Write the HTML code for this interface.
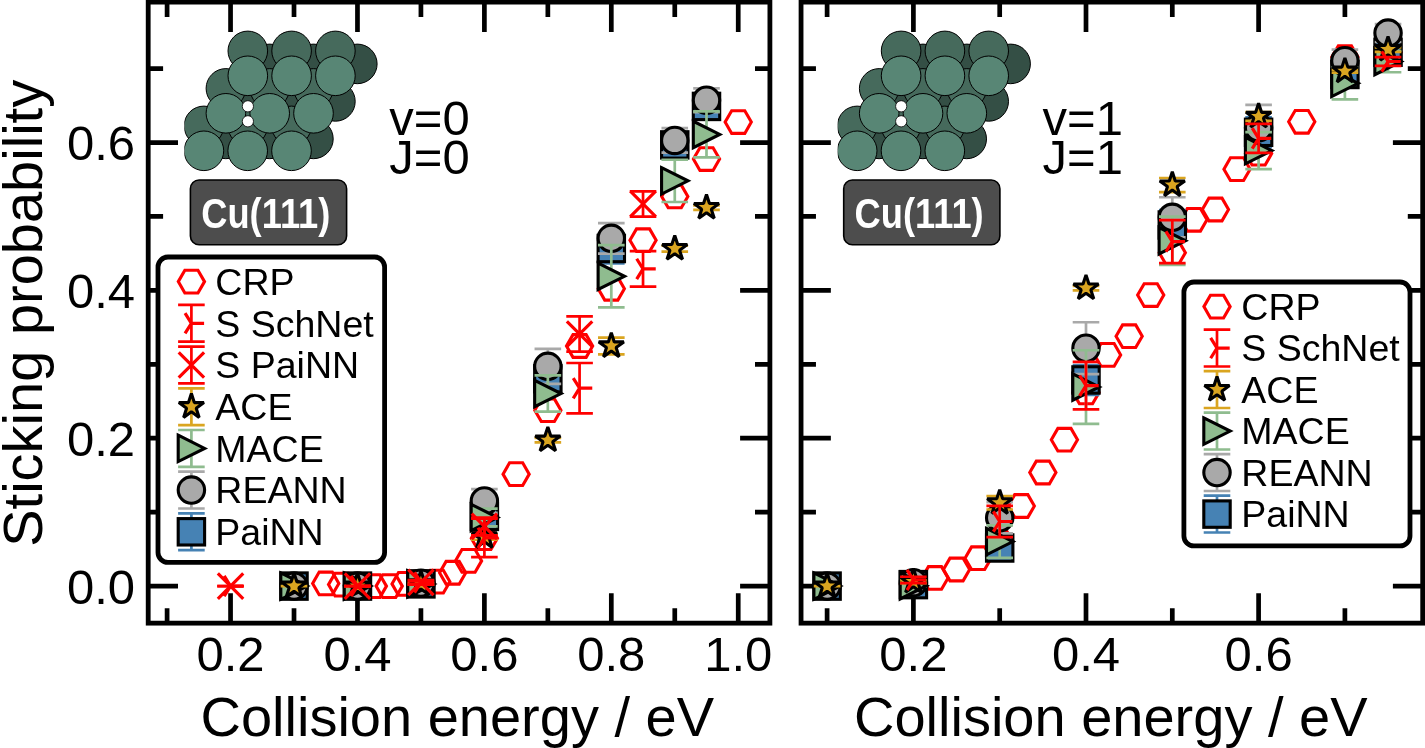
<!DOCTYPE html>
<html lang="en"><head><meta charset="utf-8"><title>Sticking probability</title>
<style>html,body{margin:0;padding:0;background:#fff;overflow:hidden}svg{display:block;position:absolute;left:0;top:0}text{font-family:'Liberation Sans', Arial, Helvetica, sans-serif}</style></head><body>
<svg width="1425" height="748" viewBox="0 0 1425 748">
<defs><clipPath id="slabclip"><rect x="184.4" y="0" width="260" height="200"/></clipPath></defs>
<rect width="1425" height="748" fill="#fff"/>
<path d="M230.55 623.15V593.35M230.55 2.1V31.9M357.47 623.15V593.35M357.47 2.1V31.9M484.39 623.15V593.35M484.39 2.1V31.9M611.31 623.15V593.35M611.31 2.1V31.9M738.23 623.15V593.35M738.23 2.1V31.9M167.09 623.15V608.25M167.09 2.1V17M294.01 623.15V608.25M294.01 2.1V17M420.93 623.15V608.25M420.93 2.1V17M547.85 623.15V608.25M547.85 2.1V17M674.77 623.15V608.25M674.77 2.1V17M148.2 586.05H178M769.9 586.05H740.1M148.2 438.21H178M769.9 438.21H740.1M148.2 290.37H178M769.9 290.37H740.1M148.2 142.53H178M769.9 142.53H740.1M148.2 512.13H163.1M769.9 512.13H755M148.2 364.29H163.1M769.9 364.29H755M148.2 216.45H163.1M769.9 216.45H755M148.2 68.61H163.1M769.9 68.61H755" stroke="#000" stroke-width="4.7" fill="none"/>
<rect x="148.2" y="2.1" width="621.7" height="621.05" fill="none" stroke="#000" stroke-width="4.8"/>
<path d="M913.4 623.15V593.35M913.4 2.1V31.9M1086 623.15V593.35M1086 2.1V31.9M1258.6 623.15V593.35M1258.6 2.1V31.9M827.1 623.15V608.25M827.1 2.1V17M999.7 623.15V608.25M999.7 2.1V17M1172.3 623.15V608.25M1172.3 2.1V17M1344.9 623.15V608.25M1344.9 2.1V17M801.05 586.05H830.85M1422.7 586.05H1392.9M801.05 438.21H830.85M1422.7 438.21H1392.9M801.05 290.37H830.85M1422.7 290.37H1392.9M801.05 142.53H830.85M1422.7 142.53H1392.9M801.05 512.13H815.95M1422.7 512.13H1407.8M801.05 364.29H815.95M1422.7 364.29H1407.8M801.05 216.45H815.95M1422.7 216.45H1407.8M801.05 68.61H815.95M1422.7 68.61H1407.8" stroke="#000" stroke-width="4.7" fill="none"/>
<rect x="801.05" y="2.1" width="621.65" height="621.05" fill="none" stroke="#000" stroke-width="4.8"/>
<polygon points="338.84,583.43 332.29,594.78 319.19,594.78 312.64,583.43 319.19,572.09 332.29,572.09" fill="none" stroke="#ff0000" stroke-width="3.1" stroke-linejoin="miter"/>
<polygon points="354.71,584.62 348.16,595.96 335.06,595.96 328.5,584.62 335.06,573.27 348.16,573.27" fill="none" stroke="#ff0000" stroke-width="3.1" stroke-linejoin="miter"/>
<polygon points="370.57,585.36 364.02,596.7 350.92,596.7 344.37,585.36 350.92,574.01 364.02,574.01" fill="none" stroke="#ff0000" stroke-width="3.1" stroke-linejoin="miter"/>
<polygon points="386.44,586.1 379.89,597.44 366.79,597.44 360.24,586.1 366.79,574.76 379.89,574.76" fill="none" stroke="#ff0000" stroke-width="3.1" stroke-linejoin="miter"/>
<polygon points="402.3,586.1 395.75,597.44 382.65,597.44 376.1,586.1 382.65,574.76 395.75,574.76" fill="none" stroke="#ff0000" stroke-width="3.1" stroke-linejoin="miter"/>
<polygon points="418.17,583.88 411.62,595.22 398.51,595.22 391.96,583.88 398.51,572.53 411.62,572.53" fill="none" stroke="#ff0000" stroke-width="3.1" stroke-linejoin="miter"/>
<polygon points="434.03,582.39 427.48,593.74 414.38,593.74 407.83,582.39 414.38,571.05 427.48,571.05" fill="none" stroke="#ff0000" stroke-width="3.1" stroke-linejoin="miter"/>
<polygon points="449.9,581.65 443.35,593 430.25,593 423.69,581.65 430.25,570.31 443.35,570.31" fill="none" stroke="#ff0000" stroke-width="3.1" stroke-linejoin="miter"/>
<polygon points="465.76,572.75 459.21,584.1 446.11,584.1 439.56,572.75 446.11,561.41 459.21,561.41" fill="none" stroke="#ff0000" stroke-width="3.1" stroke-linejoin="miter"/>
<polygon points="481.62,560.89 475.07,572.23 461.97,572.23 455.42,560.89 461.97,549.54 475.07,549.54" fill="none" stroke="#ff0000" stroke-width="3.1" stroke-linejoin="miter"/>
<polygon points="497.49,538.2 490.94,549.54 477.84,549.54 471.29,538.2 477.84,526.85 490.94,526.85" fill="none" stroke="#ff0000" stroke-width="3.1" stroke-linejoin="miter"/>
<polygon points="529.22,474.13 522.67,485.48 509.57,485.48 503.02,474.13 509.57,462.79 522.67,462.79" fill="none" stroke="#ff0000" stroke-width="3.1" stroke-linejoin="miter"/>
<polygon points="560.95,410.22 554.4,421.56 541.3,421.56 534.75,410.22 541.3,398.87 554.4,398.87" fill="none" stroke="#ff0000" stroke-width="3.1" stroke-linejoin="miter"/>
<polygon points="592.68,346 586.13,357.35 573.03,357.35 566.48,346 573.03,334.66 586.13,334.66" fill="none" stroke="#ff0000" stroke-width="3.1" stroke-linejoin="miter"/>
<polygon points="624.41,288.76 617.86,300.1 604.76,300.1 598.21,288.76 604.76,277.41 617.86,277.41" fill="none" stroke="#ff0000" stroke-width="3.1" stroke-linejoin="miter"/>
<polygon points="656.14,240.19 649.59,251.54 636.49,251.54 629.94,240.19 636.49,228.85 649.59,228.85" fill="none" stroke="#ff0000" stroke-width="3.1" stroke-linejoin="miter"/>
<polygon points="687.87,196.44 681.32,207.79 668.22,207.79 661.67,196.44 668.22,185.1 681.32,185.1" fill="none" stroke="#ff0000" stroke-width="3.1" stroke-linejoin="miter"/>
<polygon points="719.6,159.07 713.05,170.42 699.95,170.42 693.4,159.07 699.95,147.73 713.05,147.73" fill="none" stroke="#ff0000" stroke-width="3.1" stroke-linejoin="miter"/>
<polygon points="751.33,122.07 744.78,133.41 731.68,133.41 725.13,122.07 731.68,110.72 744.78,110.72" fill="none" stroke="#ff0000" stroke-width="3.1" stroke-linejoin="miter"/>
<path d="M294.01 586.1L294.01 586.1M280.71 586.1L307.31 586.1M280.71 586.1L307.31 586.1" stroke="#4682B4" stroke-width="2.7" fill="none"/>
<path d="M357.47 586.1L357.47 586.1M344.17 586.1L370.77 586.1M344.17 586.1L370.77 586.1" stroke="#4682B4" stroke-width="2.7" fill="none"/>
<path d="M420.93 583.13L420.93 584.62M407.63 583.13L434.23 583.13M407.63 584.62L434.23 584.62" stroke="#4682B4" stroke-width="2.7" fill="none"/>
<path d="M484.39 508.98L484.39 523.81M471.09 508.98L497.69 508.98M471.09 523.81L497.69 523.81" stroke="#4682B4" stroke-width="2.7" fill="none"/>
<path d="M547.85 367.65L547.85 389.9M534.55 367.65L561.15 367.65M534.55 389.9L561.15 389.9" stroke="#4682B4" stroke-width="2.7" fill="none"/>
<path d="M611.31 233.67L611.31 263.33M598.01 233.67L624.61 233.67M598.01 263.33L624.61 263.33" stroke="#4682B4" stroke-width="2.7" fill="none"/>
<path d="M674.77 133.79L674.77 156.03M661.47 133.79L688.07 133.79M661.47 156.03L688.07 156.03" stroke="#4682B4" stroke-width="2.7" fill="none"/>
<path d="M706.5 95.3L706.5 117.55M693.2 95.3L719.8 95.3M693.2 117.55L719.8 117.55" stroke="#4682B4" stroke-width="2.7" fill="none"/>
<rect x="280.81" y="572.9" width="26.4" height="26.4" fill="#4682B4" stroke="#000" stroke-width="3.1"/>
<rect x="344.27" y="572.9" width="26.4" height="26.4" fill="#4682B4" stroke="#000" stroke-width="3.1"/>
<rect x="407.73" y="570.68" width="26.4" height="26.4" fill="#4682B4" stroke="#000" stroke-width="3.1"/>
<rect x="471.19" y="503.2" width="26.4" height="26.4" fill="#4682B4" stroke="#000" stroke-width="3.1"/>
<rect x="534.65" y="365.58" width="26.4" height="26.4" fill="#4682B4" stroke="#000" stroke-width="3.1"/>
<rect x="598.11" y="235.3" width="26.4" height="26.4" fill="#4682B4" stroke="#000" stroke-width="3.1"/>
<rect x="661.57" y="131.71" width="26.4" height="26.4" fill="#4682B4" stroke="#000" stroke-width="3.1"/>
<rect x="693.3" y="93.22" width="26.4" height="26.4" fill="#4682B4" stroke="#000" stroke-width="3.1"/>
<path d="M294.01 586.1L294.01 586.1M280.71 586.1L307.31 586.1M280.71 586.1L307.31 586.1" stroke="#A9A9A9" stroke-width="2.7" fill="none"/>
<path d="M357.47 586.1L357.47 586.1M344.17 586.1L370.77 586.1M344.17 586.1L370.77 586.1" stroke="#A9A9A9" stroke-width="2.7" fill="none"/>
<path d="M420.93 582.39L420.93 583.88M407.63 582.39L434.23 582.39M407.63 583.88L434.23 583.88" stroke="#A9A9A9" stroke-width="2.7" fill="none"/>
<path d="M484.39 489.11L484.39 512.84M471.09 489.11L497.69 489.11M471.09 512.84L497.69 512.84" stroke="#A9A9A9" stroke-width="2.7" fill="none"/>
<path d="M547.85 348.82L547.85 383.82M534.55 348.82L561.15 348.82M534.55 383.82L561.15 383.82" stroke="#A9A9A9" stroke-width="2.7" fill="none"/>
<path d="M611.31 223.06L611.31 253.61M598.01 223.06L624.61 223.06M598.01 253.61L624.61 253.61" stroke="#A9A9A9" stroke-width="2.7" fill="none"/>
<path d="M674.77 128.22L674.77 152.69M661.47 128.22L688.07 128.22M661.47 152.69L688.07 152.69" stroke="#A9A9A9" stroke-width="2.7" fill="none"/>
<path d="M706.5 88.33L706.5 112.06M693.2 88.33L719.8 88.33M693.2 112.06L719.8 112.06" stroke="#A9A9A9" stroke-width="2.7" fill="none"/>
<circle cx="294.01" cy="586.1" r="13.2" fill="#A9A9A9" stroke="#000" stroke-width="3.1"/>
<circle cx="357.47" cy="586.1" r="13.2" fill="#A9A9A9" stroke="#000" stroke-width="3.1"/>
<circle cx="420.93" cy="583.13" r="13.2" fill="#A9A9A9" stroke="#000" stroke-width="3.1"/>
<circle cx="484.39" cy="500.98" r="13.2" fill="#A9A9A9" stroke="#000" stroke-width="3.1"/>
<circle cx="547.85" cy="366.32" r="13.2" fill="#A9A9A9" stroke="#000" stroke-width="3.1"/>
<circle cx="611.31" cy="238.34" r="13.2" fill="#A9A9A9" stroke="#000" stroke-width="3.1"/>
<circle cx="674.77" cy="140.46" r="13.2" fill="#A9A9A9" stroke="#000" stroke-width="3.1"/>
<circle cx="706.5" cy="100.2" r="13.2" fill="#A9A9A9" stroke="#000" stroke-width="3.1"/>
<path d="M294.01 586.1L294.01 586.1M280.71 586.1L307.31 586.1M280.71 586.1L307.31 586.1" stroke="#8FBC8F" stroke-width="2.7" fill="none"/>
<path d="M357.47 586.1L357.47 586.1M344.17 586.1L370.77 586.1M344.17 586.1L370.77 586.1" stroke="#8FBC8F" stroke-width="2.7" fill="none"/>
<path d="M420.93 583.13L420.93 584.62M407.63 583.13L434.23 583.13M407.63 584.62L434.23 584.62" stroke="#8FBC8F" stroke-width="2.7" fill="none"/>
<path d="M484.39 508.61L484.39 526.41M471.09 508.61L497.69 508.61M471.09 526.41L497.69 526.41" stroke="#8FBC8F" stroke-width="2.7" fill="none"/>
<path d="M547.85 375.44L547.85 411.63M534.55 375.44L561.15 375.44M534.55 411.63L561.15 411.63" stroke="#8FBC8F" stroke-width="2.7" fill="none"/>
<path d="M611.31 245.16L611.31 307.44M598.01 245.16L624.61 245.16M598.01 307.44L624.61 307.44" stroke="#8FBC8F" stroke-width="2.7" fill="none"/>
<path d="M674.77 159.74L674.77 202M661.47 159.74L688.07 159.74M661.47 202L688.07 202" stroke="#8FBC8F" stroke-width="2.7" fill="none"/>
<path d="M706.5 111.47L706.5 157.44M693.2 111.47L719.8 111.47M693.2 157.44L719.8 157.44" stroke="#8FBC8F" stroke-width="2.7" fill="none"/>
<polygon points="280.81,572.9 307.21,586.1 280.81,599.3" fill="#8FBC8F" stroke="#000" stroke-width="3.1" stroke-linejoin="miter"/>
<polygon points="344.27,572.9 370.67,586.1 344.27,599.3" fill="#8FBC8F" stroke="#000" stroke-width="3.1" stroke-linejoin="miter"/>
<polygon points="407.73,570.68 434.13,583.88 407.73,597.08" fill="#8FBC8F" stroke="#000" stroke-width="3.1" stroke-linejoin="miter"/>
<polygon points="471.19,504.31 497.59,517.51 471.19,530.71" fill="#8FBC8F" stroke="#000" stroke-width="3.1" stroke-linejoin="miter"/>
<polygon points="534.65,380.33 561.05,393.53 534.65,406.73" fill="#8FBC8F" stroke="#000" stroke-width="3.1" stroke-linejoin="miter"/>
<polygon points="598.11,263.1 624.51,276.3 598.11,289.5" fill="#8FBC8F" stroke="#000" stroke-width="3.1" stroke-linejoin="miter"/>
<polygon points="661.57,167.67 687.97,180.87 661.57,194.07" fill="#8FBC8F" stroke="#000" stroke-width="3.1" stroke-linejoin="miter"/>
<polygon points="693.3,121.25 719.7,134.45 693.3,147.65" fill="#8FBC8F" stroke="#000" stroke-width="3.1" stroke-linejoin="miter"/>
<path d="M294.01 586.1L294.01 586.1M280.71 586.1L307.31 586.1M280.71 586.1L307.31 586.1" stroke="#DAA520" stroke-width="2.7" fill="none"/>
<path d="M357.47 586.1L357.47 586.1M344.17 586.1L370.77 586.1M344.17 586.1L370.77 586.1" stroke="#DAA520" stroke-width="2.7" fill="none"/>
<path d="M420.93 583.13L420.93 584.62M407.63 583.13L434.23 583.13M407.63 584.62L434.23 584.62" stroke="#DAA520" stroke-width="2.7" fill="none"/>
<path d="M484.39 533.82L484.39 539.76M471.09 533.82L497.69 533.82M471.09 539.76L497.69 539.76" stroke="#DAA520" stroke-width="2.7" fill="none"/>
<path d="M547.85 437.95L547.85 442.4M534.55 437.95L561.15 437.95M534.55 442.4L561.15 442.4" stroke="#DAA520" stroke-width="2.7" fill="none"/>
<path d="M611.31 337.62L611.31 354.38M598.01 337.62L624.61 337.62M598.01 354.38L624.61 354.38" stroke="#DAA520" stroke-width="2.7" fill="none"/>
<path d="M674.77 245.68L674.77 251.61M661.47 245.68L688.07 245.68M661.47 251.61L688.07 251.61" stroke="#DAA520" stroke-width="2.7" fill="none"/>
<path d="M706.5 205.41L706.5 209.86M693.2 205.41L719.8 205.41M693.2 209.86L719.8 209.86" stroke="#DAA520" stroke-width="2.7" fill="none"/>
<polygon points="294.01,572.9 296.97,582.02 306.56,582.02 298.81,587.66 301.77,596.78 294.01,591.14 286.25,596.78 289.21,587.66 281.46,582.02 291.05,582.02" fill="#DAA520" stroke="#000" stroke-width="3.1" stroke-linejoin="bevel"/>
<polygon points="357.47,572.9 360.43,582.02 370.02,582.02 362.27,587.66 365.23,596.78 357.47,591.14 349.71,596.78 352.67,587.66 344.92,582.02 354.51,582.02" fill="#DAA520" stroke="#000" stroke-width="3.1" stroke-linejoin="bevel"/>
<polygon points="420.93,570.68 423.89,579.8 433.48,579.8 425.73,585.43 428.69,594.55 420.93,588.92 413.17,594.55 416.13,585.43 408.38,579.8 417.97,579.8" fill="#DAA520" stroke="#000" stroke-width="3.1" stroke-linejoin="bevel"/>
<polygon points="484.39,523.59 487.35,532.71 496.94,532.71 489.19,538.35 492.15,547.47 484.39,541.83 476.63,547.47 479.59,538.35 471.84,532.71 481.43,532.71" fill="#DAA520" stroke="#000" stroke-width="3.1" stroke-linejoin="bevel"/>
<polygon points="547.85,426.97 550.81,436.09 560.4,436.09 552.65,441.73 555.61,450.85 547.85,445.21 540.09,450.85 543.05,441.73 535.3,436.09 544.89,436.09" fill="#DAA520" stroke="#000" stroke-width="3.1" stroke-linejoin="bevel"/>
<polygon points="611.31,332.8 614.27,341.92 623.86,341.92 616.11,347.56 619.07,356.68 611.31,351.04 603.55,356.68 606.51,347.56 598.76,341.92 608.35,341.92" fill="#DAA520" stroke="#000" stroke-width="3.1" stroke-linejoin="bevel"/>
<polygon points="674.77,235.44 677.73,244.56 687.32,244.56 679.57,250.2 682.53,259.32 674.77,253.69 667.01,259.32 669.97,250.2 662.22,244.56 671.81,244.56" fill="#DAA520" stroke="#000" stroke-width="3.1" stroke-linejoin="bevel"/>
<polygon points="706.5,194.44 709.46,203.56 719.05,203.56 711.3,209.2 714.26,218.32 706.5,212.68 698.74,218.32 701.7,209.2 693.95,203.56 703.54,203.56" fill="#DAA520" stroke="#000" stroke-width="3.1" stroke-linejoin="bevel"/>
<path d="M230.55 586.1L230.55 586.1M217.25 586.1L243.85 586.1M217.25 586.1L243.85 586.1" stroke="#ff0000" stroke-width="2.7" fill="none"/>
<path d="M357.47 586.1L357.47 586.1M344.17 586.1L370.77 586.1M344.17 586.1L370.77 586.1" stroke="#ff0000" stroke-width="2.7" fill="none"/>
<path d="M420.93 580.17L420.93 584.62M407.63 580.17L434.23 580.17M407.63 584.62L434.23 584.62" stroke="#ff0000" stroke-width="2.7" fill="none"/>
<path d="M484.39 518.62L484.39 557.18M471.09 518.62L497.69 518.62M471.09 557.18L497.69 557.18" stroke="#ff0000" stroke-width="2.7" fill="none"/>
<path d="M579.58 362.98L579.58 413.4M566.28 362.98L592.88 362.98M566.28 413.4L592.88 413.4" stroke="#ff0000" stroke-width="2.7" fill="none"/>
<path d="M643.04 251.09L643.04 286.68M629.74 251.09L656.34 251.09M629.74 286.68L656.34 286.68" stroke="#ff0000" stroke-width="2.7" fill="none"/>
<path d="M230.55 586.1L243.25 586.1M230.55 586.1L224.2 575.94M230.55 586.1L224.2 596.26" stroke="#ff0000" stroke-width="3.2" fill="none"/>
<path d="M357.47 586.1L370.17 586.1M357.47 586.1L351.12 575.94M357.47 586.1L351.12 596.26" stroke="#ff0000" stroke-width="3.2" fill="none"/>
<path d="M420.93 582.39L433.63 582.39M420.93 582.39L414.58 572.23M420.93 582.39L414.58 592.55" stroke="#ff0000" stroke-width="3.2" fill="none"/>
<path d="M484.39 537.9L497.09 537.9M484.39 537.9L478.04 527.74M484.39 537.9L478.04 548.06" stroke="#ff0000" stroke-width="3.2" fill="none"/>
<path d="M579.58 388.19L592.28 388.19M579.58 388.19L573.23 378.03M579.58 388.19L573.23 398.35" stroke="#ff0000" stroke-width="3.2" fill="none"/>
<path d="M643.04 268.89L655.74 268.89M643.04 268.89L636.69 258.73M643.04 268.89L636.69 279.05" stroke="#ff0000" stroke-width="3.2" fill="none"/>
<path d="M230.55 586.1L230.55 586.1M217.25 586.1L243.85 586.1M217.25 586.1L243.85 586.1" stroke="#ff0000" stroke-width="2.7" fill="none"/>
<path d="M357.47 586.1L357.47 586.1M344.17 586.1L370.77 586.1M344.17 586.1L370.77 586.1" stroke="#ff0000" stroke-width="2.7" fill="none"/>
<path d="M420.93 580.91L420.93 583.88M407.63 580.91L434.23 580.91M407.63 583.88L434.23 583.88" stroke="#ff0000" stroke-width="2.7" fill="none"/>
<path d="M484.39 517.51L484.39 535.31M471.09 517.51L497.69 517.51M471.09 535.31L497.69 535.31" stroke="#ff0000" stroke-width="2.7" fill="none"/>
<path d="M579.58 316.42L579.58 351.56M566.28 316.42L592.88 316.42M566.28 351.56L592.88 351.56" stroke="#ff0000" stroke-width="2.7" fill="none"/>
<path d="M643.04 191.33L643.04 216.54M629.74 191.33L656.34 191.33M629.74 216.54L656.34 216.54" stroke="#ff0000" stroke-width="2.7" fill="none"/>
<path d="M217.85 573.4L243.25 598.8M217.85 598.8L243.25 573.4" stroke="#ff0000" stroke-width="3.2" fill="none"/>
<path d="M344.77 573.4L370.17 598.8M344.77 598.8L370.17 573.4" stroke="#ff0000" stroke-width="3.2" fill="none"/>
<path d="M408.23 569.69L433.63 595.09M408.23 595.09L433.63 569.69" stroke="#ff0000" stroke-width="3.2" fill="none"/>
<path d="M471.69 513.71L497.09 539.11M471.69 539.11L497.09 513.71" stroke="#ff0000" stroke-width="3.2" fill="none"/>
<path d="M566.88 321.29L592.28 346.69M566.88 346.69L592.28 321.29" stroke="#ff0000" stroke-width="3.2" fill="none"/>
<path d="M630.34 191.23L655.74 216.63M630.34 216.63L655.74 191.23" stroke="#ff0000" stroke-width="3.2" fill="none"/>
<polygon points="926.5,583.88 919.95,595.22 906.85,595.22 900.3,583.88 906.85,572.53 919.95,572.53" fill="none" stroke="#ff0000" stroke-width="3.1" stroke-linejoin="miter"/>
<polygon points="948.08,577.94 941.52,589.29 928.43,589.29 921.88,577.94 928.43,566.6 941.52,566.6" fill="none" stroke="#ff0000" stroke-width="3.1" stroke-linejoin="miter"/>
<polygon points="969.65,569.49 963.1,580.84 950,580.84 943.45,569.49 950,558.15 963.1,558.15" fill="none" stroke="#ff0000" stroke-width="3.1" stroke-linejoin="miter"/>
<polygon points="991.23,558.22 984.67,569.56 971.58,569.56 965.02,558.22 971.58,546.87 984.67,546.87" fill="none" stroke="#ff0000" stroke-width="3.1" stroke-linejoin="miter"/>
<polygon points="1012.8,541.61 1006.25,552.95 993.15,552.95 986.6,541.61 993.15,530.27 1006.25,530.27" fill="none" stroke="#ff0000" stroke-width="3.1" stroke-linejoin="miter"/>
<polygon points="1034.38,506.02 1027.83,517.36 1014.73,517.36 1008.17,506.02 1014.73,494.67 1027.83,494.67" fill="none" stroke="#ff0000" stroke-width="3.1" stroke-linejoin="miter"/>
<polygon points="1055.95,472.5 1049.4,483.85 1036.3,483.85 1029.75,472.5 1036.3,461.16 1049.4,461.16" fill="none" stroke="#ff0000" stroke-width="3.1" stroke-linejoin="miter"/>
<polygon points="1077.52,439.73 1070.97,451.07 1057.88,451.07 1051.33,439.73 1057.88,428.38 1070.97,428.38" fill="none" stroke="#ff0000" stroke-width="3.1" stroke-linejoin="miter"/>
<polygon points="1099.1,392.42 1092.55,403.77 1079.45,403.77 1072.9,392.42 1079.45,381.08 1092.55,381.08" fill="none" stroke="#ff0000" stroke-width="3.1" stroke-linejoin="miter"/>
<polygon points="1120.67,354.9 1114.12,366.25 1101.03,366.25 1094.48,354.9 1101.03,343.56 1114.12,343.56" fill="none" stroke="#ff0000" stroke-width="3.1" stroke-linejoin="miter"/>
<polygon points="1142.25,336.21 1135.7,347.56 1122.6,347.56 1116.05,336.21 1122.6,324.87 1135.7,324.87" fill="none" stroke="#ff0000" stroke-width="3.1" stroke-linejoin="miter"/>
<polygon points="1163.82,295.06 1157.27,306.41 1144.17,306.41 1137.62,295.06 1144.17,283.72 1157.27,283.72" fill="none" stroke="#ff0000" stroke-width="3.1" stroke-linejoin="miter"/>
<polygon points="1185.4,252.72 1178.85,264.07 1165.75,264.07 1159.2,252.72 1165.75,241.38 1178.85,241.38" fill="none" stroke="#ff0000" stroke-width="3.1" stroke-linejoin="miter"/>
<polygon points="1206.97,219.8 1200.42,231.14 1187.33,231.14 1180.78,219.8 1187.33,208.45 1200.42,208.45" fill="none" stroke="#ff0000" stroke-width="3.1" stroke-linejoin="miter"/>
<polygon points="1228.55,209.49 1222,220.84 1208.9,220.84 1202.35,209.49 1208.9,198.15 1222,198.15" fill="none" stroke="#ff0000" stroke-width="3.1" stroke-linejoin="miter"/>
<polygon points="1250.12,169.15 1243.57,180.5 1230.47,180.5 1223.92,169.15 1230.47,157.81 1243.57,157.81" fill="none" stroke="#ff0000" stroke-width="3.1" stroke-linejoin="miter"/>
<polygon points="1271.7,153.58 1265.15,164.93 1252.05,164.93 1245.5,153.58 1252.05,142.24 1265.15,142.24" fill="none" stroke="#ff0000" stroke-width="3.1" stroke-linejoin="miter"/>
<polygon points="1314.85,121.77 1308.3,133.12 1295.2,133.12 1288.65,121.77 1295.2,110.43 1308.3,110.43" fill="none" stroke="#ff0000" stroke-width="3.1" stroke-linejoin="miter"/>
<polygon points="1358,57.04 1351.45,68.38 1338.35,68.38 1331.8,57.04 1338.35,45.69 1351.45,45.69" fill="none" stroke="#ff0000" stroke-width="3.1" stroke-linejoin="miter"/>
<polygon points="1401.15,52.22 1394.6,63.56 1381.5,63.56 1374.95,52.22 1381.5,40.88 1394.6,40.88" fill="none" stroke="#ff0000" stroke-width="3.1" stroke-linejoin="miter"/>
<path d="M827.1 586.1L827.1 586.1M813.8 586.1L840.4 586.1M813.8 586.1L840.4 586.1" stroke="#4682B4" stroke-width="2.7" fill="none"/>
<path d="M913.4 583.88L913.4 585.36M900.1 583.88L926.7 583.88M900.1 585.36L926.7 585.36" stroke="#4682B4" stroke-width="2.7" fill="none"/>
<path d="M999.7 540.57L999.7 555.4M986.4 540.57L1013 540.57M986.4 555.4L1013 555.4" stroke="#4682B4" stroke-width="2.7" fill="none"/>
<path d="M1086 365.13L1086 394.79M1072.7 365.13L1099.3 365.13M1072.7 394.79L1099.3 394.79" stroke="#4682B4" stroke-width="2.7" fill="none"/>
<path d="M1172.3 210.16L1172.3 239.82M1159 210.16L1185.6 210.16M1159 239.82L1185.6 239.82" stroke="#4682B4" stroke-width="2.7" fill="none"/>
<path d="M1258.6 117.47L1258.6 147.13M1245.3 117.47L1271.9 117.47M1245.3 147.13L1271.9 147.13" stroke="#4682B4" stroke-width="2.7" fill="none"/>
<path d="M1344.9 63.34L1344.9 85.59M1331.6 63.34L1358.2 63.34M1331.6 85.59L1358.2 85.59" stroke="#4682B4" stroke-width="2.7" fill="none"/>
<path d="M1388.05 43.32L1388.05 61.12M1374.75 43.32L1401.35 43.32M1374.75 61.12L1401.35 61.12" stroke="#4682B4" stroke-width="2.7" fill="none"/>
<rect x="813.9" y="572.9" width="26.4" height="26.4" fill="#4682B4" stroke="#000" stroke-width="3.1"/>
<rect x="900.2" y="571.42" width="26.4" height="26.4" fill="#4682B4" stroke="#000" stroke-width="3.1"/>
<rect x="986.5" y="534.79" width="26.4" height="26.4" fill="#4682B4" stroke="#000" stroke-width="3.1"/>
<rect x="1072.8" y="366.76" width="26.4" height="26.4" fill="#4682B4" stroke="#000" stroke-width="3.1"/>
<rect x="1159.1" y="211.79" width="26.4" height="26.4" fill="#4682B4" stroke="#000" stroke-width="3.1"/>
<rect x="1245.4" y="119.1" width="26.4" height="26.4" fill="#4682B4" stroke="#000" stroke-width="3.1"/>
<rect x="1331.7" y="61.27" width="26.4" height="26.4" fill="#4682B4" stroke="#000" stroke-width="3.1"/>
<rect x="1374.85" y="39.02" width="26.4" height="26.4" fill="#4682B4" stroke="#000" stroke-width="3.1"/>
<path d="M827.1 586.1L827.1 586.1M813.8 586.1L840.4 586.1M813.8 586.1L840.4 586.1" stroke="#A9A9A9" stroke-width="2.7" fill="none"/>
<path d="M913.4 581.21L913.4 584.17M900.1 581.21L926.7 581.21M900.1 584.17L926.7 584.17" stroke="#A9A9A9" stroke-width="2.7" fill="none"/>
<path d="M999.7 502.24L999.7 533.38M986.4 502.24L1013 502.24M986.4 533.38L1013 533.38" stroke="#A9A9A9" stroke-width="2.7" fill="none"/>
<path d="M1086 322.27L1086 374.18M1072.7 322.27L1099.3 322.27M1072.7 374.18L1099.3 374.18" stroke="#A9A9A9" stroke-width="2.7" fill="none"/>
<path d="M1172.3 197.26L1172.3 237.3M1159 197.26L1185.6 197.26M1159 237.3L1185.6 237.3" stroke="#A9A9A9" stroke-width="2.7" fill="none"/>
<path d="M1258.6 104.87L1258.6 150.84M1245.3 104.87L1271.9 104.87M1245.3 150.84L1271.9 150.84" stroke="#A9A9A9" stroke-width="2.7" fill="none"/>
<path d="M1344.9 49.55L1344.9 71.8M1331.6 49.55L1358.2 49.55M1331.6 71.8L1358.2 71.8" stroke="#A9A9A9" stroke-width="2.7" fill="none"/>
<path d="M1388.05 24.19L1388.05 41.99M1374.75 24.19L1401.35 24.19M1374.75 41.99L1401.35 41.99" stroke="#A9A9A9" stroke-width="2.7" fill="none"/>
<circle cx="827.1" cy="586.1" r="13.2" fill="#A9A9A9" stroke="#000" stroke-width="3.1"/>
<circle cx="913.4" cy="582.69" r="13.2" fill="#A9A9A9" stroke="#000" stroke-width="3.1"/>
<circle cx="999.7" cy="517.81" r="13.2" fill="#A9A9A9" stroke="#000" stroke-width="3.1"/>
<circle cx="1086" cy="348.23" r="13.2" fill="#A9A9A9" stroke="#000" stroke-width="3.1"/>
<circle cx="1172.3" cy="217.28" r="13.2" fill="#A9A9A9" stroke="#000" stroke-width="3.1"/>
<circle cx="1258.6" cy="127.85" r="13.2" fill="#A9A9A9" stroke="#000" stroke-width="3.1"/>
<circle cx="1344.9" cy="60.67" r="13.2" fill="#A9A9A9" stroke="#000" stroke-width="3.1"/>
<circle cx="1388.05" cy="33.09" r="13.2" fill="#A9A9A9" stroke="#000" stroke-width="3.1"/>
<path d="M827.1 586.1L827.1 586.1M813.8 586.1L840.4 586.1M813.8 586.1L840.4 586.1" stroke="#8FBC8F" stroke-width="2.7" fill="none"/>
<path d="M913.4 584.99L913.4 586.47M900.1 584.99L926.7 584.99M900.1 586.47L926.7 586.47" stroke="#8FBC8F" stroke-width="2.7" fill="none"/>
<path d="M999.7 525.3L999.7 557.92M986.4 525.3L1013 525.3M986.4 557.92L1013 557.92" stroke="#8FBC8F" stroke-width="2.7" fill="none"/>
<path d="M1086 350.23L1086 423.79M1072.7 350.23L1099.3 350.23M1072.7 423.79L1099.3 423.79" stroke="#8FBC8F" stroke-width="2.7" fill="none"/>
<path d="M1172.3 216.61L1172.3 264.81M1159 216.61L1185.6 216.61M1159 264.81L1185.6 264.81" stroke="#8FBC8F" stroke-width="2.7" fill="none"/>
<path d="M1258.6 132.08L1258.6 169.15M1245.3 132.08L1271.9 132.08M1245.3 169.15L1271.9 169.15" stroke="#8FBC8F" stroke-width="2.7" fill="none"/>
<path d="M1344.9 67.27L1344.9 99.45M1331.6 67.27L1358.2 67.27M1331.6 99.45L1358.2 99.45" stroke="#8FBC8F" stroke-width="2.7" fill="none"/>
<path d="M1388.05 50.74L1388.05 72.24M1374.75 50.74L1401.35 50.74M1374.75 72.24L1401.35 72.24" stroke="#8FBC8F" stroke-width="2.7" fill="none"/>
<polygon points="813.9,572.9 840.3,586.1 813.9,599.3" fill="#8FBC8F" stroke="#000" stroke-width="3.1" stroke-linejoin="miter"/>
<polygon points="900.2,572.53 926.6,585.73 900.2,598.93" fill="#8FBC8F" stroke="#000" stroke-width="3.1" stroke-linejoin="miter"/>
<polygon points="986.5,528.41 1012.9,541.61 986.5,554.81" fill="#8FBC8F" stroke="#000" stroke-width="3.1" stroke-linejoin="miter"/>
<polygon points="1072.8,373.81 1099.2,387.01 1072.8,400.21" fill="#8FBC8F" stroke="#000" stroke-width="3.1" stroke-linejoin="miter"/>
<polygon points="1159.1,227.51 1185.5,240.71 1159.1,253.91" fill="#8FBC8F" stroke="#000" stroke-width="3.1" stroke-linejoin="miter"/>
<polygon points="1245.4,137.42 1271.8,150.62 1245.4,163.82" fill="#8FBC8F" stroke="#000" stroke-width="3.1" stroke-linejoin="miter"/>
<polygon points="1331.7,70.16 1358.1,83.36 1331.7,96.56" fill="#8FBC8F" stroke="#000" stroke-width="3.1" stroke-linejoin="miter"/>
<polygon points="1374.85,48.29 1401.25,61.49 1374.85,74.69" fill="#8FBC8F" stroke="#000" stroke-width="3.1" stroke-linejoin="miter"/>
<path d="M827.1 586.1L827.1 586.1M813.8 586.1L840.4 586.1M813.8 586.1L840.4 586.1" stroke="#DAA520" stroke-width="2.7" fill="none"/>
<path d="M913.4 580.17L913.4 583.13M900.1 580.17L926.7 580.17M900.1 583.13L926.7 583.13" stroke="#DAA520" stroke-width="2.7" fill="none"/>
<path d="M999.7 496.16L999.7 509.5M986.4 496.16L1013 496.16M986.4 509.5L1013 509.5" stroke="#DAA520" stroke-width="2.7" fill="none"/>
<path d="M1086 285.87L1086 290.32M1072.7 285.87L1099.3 285.87M1072.7 290.32L1099.3 290.32" stroke="#DAA520" stroke-width="2.7" fill="none"/>
<path d="M1172.3 177.98L1172.3 192.07M1159 177.98L1185.6 177.98M1159 192.07L1185.6 192.07" stroke="#DAA520" stroke-width="2.7" fill="none"/>
<path d="M1258.6 111.98L1258.6 120.88M1245.3 111.98L1271.9 111.98M1245.3 120.88L1271.9 120.88" stroke="#DAA520" stroke-width="2.7" fill="none"/>
<path d="M1344.9 69.72L1344.9 72.69M1331.6 69.72L1358.2 69.72M1331.6 72.69L1358.2 72.69" stroke="#DAA520" stroke-width="2.7" fill="none"/>
<path d="M1388.05 47.4L1388.05 51.85M1374.75 47.4L1401.35 47.4M1374.75 51.85L1401.35 51.85" stroke="#DAA520" stroke-width="2.7" fill="none"/>
<polygon points="827.1,572.9 830.06,582.02 839.65,582.02 831.9,587.66 834.86,596.78 827.1,591.14 819.34,596.78 822.3,587.66 814.55,582.02 824.14,582.02" fill="#DAA520" stroke="#000" stroke-width="3.1" stroke-linejoin="bevel"/>
<polygon points="913.4,568.45 916.36,577.57 925.95,577.57 918.2,583.21 921.16,592.33 913.4,586.69 905.64,592.33 908.6,583.21 900.85,577.57 910.44,577.57" fill="#DAA520" stroke="#000" stroke-width="3.1" stroke-linejoin="bevel"/>
<polygon points="999.7,489.63 1002.66,498.75 1012.25,498.75 1004.5,504.39 1007.46,513.51 999.7,507.87 991.94,513.51 994.9,504.39 987.15,498.75 996.74,498.75" fill="#DAA520" stroke="#000" stroke-width="3.1" stroke-linejoin="bevel"/>
<polygon points="1086,274.89 1088.96,284.01 1098.55,284.01 1090.8,289.65 1093.76,298.77 1086,293.13 1078.24,298.77 1081.2,289.65 1073.45,284.01 1083.04,284.01" fill="#DAA520" stroke="#000" stroke-width="3.1" stroke-linejoin="bevel"/>
<polygon points="1172.3,171.82 1175.26,180.94 1184.85,180.94 1177.1,186.58 1180.06,195.7 1172.3,190.06 1164.54,195.7 1167.5,186.58 1159.75,180.94 1169.34,180.94" fill="#DAA520" stroke="#000" stroke-width="3.1" stroke-linejoin="bevel"/>
<polygon points="1258.6,103.23 1261.56,112.35 1271.15,112.35 1263.4,117.99 1266.36,127.11 1258.6,121.48 1250.84,127.11 1253.8,117.99 1246.05,112.35 1255.64,112.35" fill="#DAA520" stroke="#000" stroke-width="3.1" stroke-linejoin="bevel"/>
<polygon points="1344.9,58 1347.86,67.12 1357.45,67.12 1349.7,72.76 1352.66,81.88 1344.9,76.24 1337.14,81.88 1340.1,72.76 1332.35,67.12 1341.94,67.12" fill="#DAA520" stroke="#000" stroke-width="3.1" stroke-linejoin="bevel"/>
<polygon points="1388.05,36.42 1391.01,45.55 1400.6,45.55 1392.85,51.18 1395.81,60.3 1388.05,54.67 1380.29,60.3 1383.25,51.18 1375.5,45.55 1385.09,45.55" fill="#DAA520" stroke="#000" stroke-width="3.1" stroke-linejoin="bevel"/>
<path d="M913.4 576.76L913.4 583.13M900.1 576.76L926.7 576.76M900.1 583.13L926.7 583.13" stroke="#ff0000" stroke-width="2.7" fill="none"/>
<path d="M999.7 505.94L999.7 537.09M986.4 505.94L1013 505.94M986.4 537.09L1013 537.09" stroke="#ff0000" stroke-width="2.7" fill="none"/>
<path d="M1086 361.94L1086 409.4M1072.7 361.94L1099.3 361.94M1072.7 409.4L1099.3 409.4" stroke="#ff0000" stroke-width="2.7" fill="none"/>
<path d="M1172.3 220.1L1172.3 263.1M1159 220.1L1185.6 220.1M1159 263.1L1185.6 263.1" stroke="#ff0000" stroke-width="2.7" fill="none"/>
<path d="M1258.6 123.92L1258.6 152.84M1245.3 123.92L1271.9 123.92M1245.3 152.84L1271.9 152.84" stroke="#ff0000" stroke-width="2.7" fill="none"/>
<path d="M1388.05 57.04L1388.05 65.94M1374.75 57.04L1401.35 57.04M1374.75 65.94L1401.35 65.94" stroke="#ff0000" stroke-width="2.7" fill="none"/>
<path d="M913.4 579.95L926.1 579.95M913.4 579.95L907.05 569.79M913.4 579.95L907.05 590.11" stroke="#ff0000" stroke-width="3.2" fill="none"/>
<path d="M999.7 521.52L1012.4 521.52M999.7 521.52L993.35 511.36M999.7 521.52L993.35 531.68" stroke="#ff0000" stroke-width="3.2" fill="none"/>
<path d="M1086 385.67L1098.7 385.67M1086 385.67L1079.65 375.51M1086 385.67L1079.65 395.83" stroke="#ff0000" stroke-width="3.2" fill="none"/>
<path d="M1172.3 241.6L1185 241.6M1172.3 241.6L1165.95 231.44M1172.3 241.6L1165.95 251.76" stroke="#ff0000" stroke-width="3.2" fill="none"/>
<path d="M1258.6 138.38L1271.3 138.38M1258.6 138.38L1252.25 128.22M1258.6 138.38L1252.25 148.54" stroke="#ff0000" stroke-width="3.2" fill="none"/>
<path d="M1388.05 61.49L1400.75 61.49M1388.05 61.49L1381.7 51.33M1388.05 61.49L1381.7 71.65" stroke="#ff0000" stroke-width="3.2" fill="none"/>
<text x="230.55" y="671" font-size="49" text-anchor="middle" font-weight="normal" fill="#000">0.2</text>
<text x="357.47" y="671" font-size="49" text-anchor="middle" font-weight="normal" fill="#000">0.4</text>
<text x="484.39" y="671" font-size="49" text-anchor="middle" font-weight="normal" fill="#000">0.6</text>
<text x="611.31" y="671" font-size="49" text-anchor="middle" font-weight="normal" fill="#000">0.8</text>
<text x="738.23" y="671" font-size="49" text-anchor="middle" font-weight="normal" fill="#000">1.0</text>
<text x="913.4" y="671" font-size="49" text-anchor="middle" font-weight="normal" fill="#000">0.2</text>
<text x="1086" y="671" font-size="49" text-anchor="middle" font-weight="normal" fill="#000">0.4</text>
<text x="1258.6" y="671" font-size="49" text-anchor="middle" font-weight="normal" fill="#000">0.6</text>
<text x="135" y="603.65" font-size="49" text-anchor="end" font-weight="normal" fill="#000">0.0</text>
<text x="135" y="455.81" font-size="49" text-anchor="end" font-weight="normal" fill="#000">0.2</text>
<text x="135" y="307.97" font-size="49" text-anchor="end" font-weight="normal" fill="#000">0.4</text>
<text x="135" y="160.13" font-size="49" text-anchor="end" font-weight="normal" fill="#000">0.6</text>
<text x="457.3" y="736" font-size="56" text-anchor="middle" font-weight="normal" fill="#000">Collision energy / eV</text>
<text x="1110.8" y="736" font-size="56" text-anchor="middle" font-weight="normal" fill="#000">Collision energy / eV</text>
<text transform="translate(42.3,313.3) rotate(-90)" font-size="56" text-anchor="middle">Sticking probability</text>
<g transform="translate(0,0)" clip-path="url(#slabclip)" stroke="#000" stroke-width="1">
<circle cx="269.7" cy="63.9" r="19.8" fill="#344f45"/>
<circle cx="313.5" cy="63.9" r="19.8" fill="#344f45"/>
<circle cx="357.3" cy="63.9" r="19.8" fill="#344f45"/>
<circle cx="247.8" cy="101.4" r="19.8" fill="#344f45"/>
<circle cx="291.6" cy="101.4" r="19.8" fill="#344f45"/>
<circle cx="335.4" cy="101.4" r="19.8" fill="#344f45"/>
<circle cx="225.8" cy="138.9" r="19.8" fill="#344f45"/>
<circle cx="269.6" cy="138.9" r="19.8" fill="#344f45"/>
<circle cx="313.4" cy="138.9" r="19.8" fill="#344f45"/>
<circle cx="247.8" cy="50.9" r="19.8" fill="#466a5c"/>
<circle cx="291.6" cy="50.9" r="19.8" fill="#466a5c"/>
<circle cx="335.4" cy="50.9" r="19.8" fill="#466a5c"/>
<circle cx="225.9" cy="88.4" r="19.8" fill="#466a5c"/>
<circle cx="269.7" cy="88.4" r="19.8" fill="#466a5c"/>
<circle cx="313.5" cy="88.4" r="19.8" fill="#466a5c"/>
<circle cx="203.9" cy="125.9" r="19.8" fill="#466a5c"/>
<circle cx="247.7" cy="125.9" r="19.8" fill="#466a5c"/>
<circle cx="291.5" cy="125.9" r="19.8" fill="#466a5c"/>
<circle cx="247.8" cy="75.8" r="19.8" fill="#588675"/>
<circle cx="291.6" cy="75.8" r="19.8" fill="#588675"/>
<circle cx="335.4" cy="75.8" r="19.8" fill="#588675"/>
<circle cx="225.9" cy="113.3" r="19.8" fill="#588675"/>
<circle cx="269.7" cy="113.3" r="19.8" fill="#588675"/>
<circle cx="313.5" cy="113.3" r="19.8" fill="#588675"/>
<circle cx="203.9" cy="150.8" r="19.8" fill="#588675"/>
<circle cx="247.7" cy="150.8" r="19.8" fill="#588675"/>
<circle cx="291.5" cy="150.8" r="19.8" fill="#588675"/>
<circle cx="247.9" cy="106.3" r="5.6" fill="#fff" stroke-width="0.8"/>
<circle cx="247.9" cy="121.3" r="5.6" fill="#fff" stroke-width="0.8"/>
</g>
<rect x="190.4" y="180" width="156.2" height="64.8" rx="8.7" ry="8.7" fill="#4d4d4d" stroke="#000" stroke-width="1.6"/>
<text transform="translate(265.8,227.6) scale(0.865,1)" font-size="42" text-anchor="middle" font-weight="bold" fill="#fff">Cu(111)</text>
<g transform="translate(653.3,0)" clip-path="url(#slabclip)" stroke="#000" stroke-width="1">
<circle cx="269.7" cy="63.9" r="19.8" fill="#344f45"/>
<circle cx="313.5" cy="63.9" r="19.8" fill="#344f45"/>
<circle cx="357.3" cy="63.9" r="19.8" fill="#344f45"/>
<circle cx="247.8" cy="101.4" r="19.8" fill="#344f45"/>
<circle cx="291.6" cy="101.4" r="19.8" fill="#344f45"/>
<circle cx="335.4" cy="101.4" r="19.8" fill="#344f45"/>
<circle cx="225.8" cy="138.9" r="19.8" fill="#344f45"/>
<circle cx="269.6" cy="138.9" r="19.8" fill="#344f45"/>
<circle cx="313.4" cy="138.9" r="19.8" fill="#344f45"/>
<circle cx="247.8" cy="50.9" r="19.8" fill="#466a5c"/>
<circle cx="291.6" cy="50.9" r="19.8" fill="#466a5c"/>
<circle cx="335.4" cy="50.9" r="19.8" fill="#466a5c"/>
<circle cx="225.9" cy="88.4" r="19.8" fill="#466a5c"/>
<circle cx="269.7" cy="88.4" r="19.8" fill="#466a5c"/>
<circle cx="313.5" cy="88.4" r="19.8" fill="#466a5c"/>
<circle cx="203.9" cy="125.9" r="19.8" fill="#466a5c"/>
<circle cx="247.7" cy="125.9" r="19.8" fill="#466a5c"/>
<circle cx="291.5" cy="125.9" r="19.8" fill="#466a5c"/>
<circle cx="247.8" cy="75.8" r="19.8" fill="#588675"/>
<circle cx="291.6" cy="75.8" r="19.8" fill="#588675"/>
<circle cx="335.4" cy="75.8" r="19.8" fill="#588675"/>
<circle cx="225.9" cy="113.3" r="19.8" fill="#588675"/>
<circle cx="269.7" cy="113.3" r="19.8" fill="#588675"/>
<circle cx="313.5" cy="113.3" r="19.8" fill="#588675"/>
<circle cx="203.9" cy="150.8" r="19.8" fill="#588675"/>
<circle cx="247.7" cy="150.8" r="19.8" fill="#588675"/>
<circle cx="291.5" cy="150.8" r="19.8" fill="#588675"/>
<circle cx="247.9" cy="106.3" r="5.6" fill="#fff" stroke-width="0.8"/>
<circle cx="247.9" cy="121.3" r="5.6" fill="#fff" stroke-width="0.8"/>
</g>
<rect x="843.7" y="180" width="156.2" height="64.8" rx="8.7" ry="8.7" fill="#4d4d4d" stroke="#000" stroke-width="1.6"/>
<text transform="translate(919.1,227.6) scale(0.865,1)" font-size="42" text-anchor="middle" font-weight="bold" fill="#fff">Cu(111)</text>
<text x="389.3" y="135.4" font-size="49" text-anchor="start" font-weight="normal" fill="#000">v=0</text>
<text x="389.3" y="174" font-size="49" text-anchor="start" font-weight="normal" fill="#000">J=0</text>
<text x="1042.6" y="135.4" font-size="49" text-anchor="start" font-weight="normal" fill="#000">v=1</text>
<text x="1042.6" y="174" font-size="49" text-anchor="start" font-weight="normal" fill="#000">J=1</text>
<rect x="158" y="257" width="226.6" height="305.4" rx="10" ry="10" fill="#fff" stroke="#000" stroke-width="4.8"/>
<polygon points="204.5,281.6 197.95,292.94 184.85,292.94 178.3,281.6 184.85,270.26 197.95,270.26" fill="none" stroke="#ff0000" stroke-width="3.1" stroke-linejoin="miter"/>
<text x="215.3" y="294.9" font-size="37.5" text-anchor="start" font-weight="normal" fill="#000">CRP</text>
<path d="M191.4 304.9L191.4 341.7M178.1 304.9L204.7 304.9M178.1 341.7L204.7 341.7" stroke="#ff0000" stroke-width="2.7" fill="none"/>
<path d="M191.4 323.3L204.1 323.3M191.4 323.3L185.05 313.14M191.4 323.3L185.05 333.46" stroke="#ff0000" stroke-width="3.2" fill="none"/>
<text x="215.3" y="336.6" font-size="37.5" text-anchor="start" font-weight="normal" fill="#000">S SchNet</text>
<path d="M191.4 346.6L191.4 383.4M178.1 346.6L204.7 346.6M178.1 383.4L204.7 383.4" stroke="#ff0000" stroke-width="2.7" fill="none"/>
<path d="M178.7 352.3L204.1 377.7M178.7 377.7L204.1 352.3" stroke="#ff0000" stroke-width="3.2" fill="none"/>
<text x="215.3" y="378.3" font-size="37.5" text-anchor="start" font-weight="normal" fill="#000">S PaiNN</text>
<path d="M191.4 388.3L191.4 425.1M178.1 388.3L204.7 388.3M178.1 425.1L204.7 425.1" stroke="#DAA520" stroke-width="2.7" fill="none"/>
<polygon points="191.4,393.5 194.36,402.62 203.95,402.62 196.2,408.26 199.16,417.38 191.4,411.74 183.64,417.38 186.6,408.26 178.85,402.62 188.44,402.62" fill="#DAA520" stroke="#000" stroke-width="3.1" stroke-linejoin="bevel"/>
<text x="215.3" y="420" font-size="37.5" text-anchor="start" font-weight="normal" fill="#000">ACE</text>
<path d="M191.4 430L191.4 466.8M178.1 430L204.7 430M178.1 466.8L204.7 466.8" stroke="#8FBC8F" stroke-width="2.7" fill="none"/>
<polygon points="178.2,435.2 204.6,448.4 178.2,461.6" fill="#8FBC8F" stroke="#000" stroke-width="3.1" stroke-linejoin="miter"/>
<text x="215.3" y="461.7" font-size="37.5" text-anchor="start" font-weight="normal" fill="#000">MACE</text>
<path d="M191.4 471.7L191.4 508.5M178.1 471.7L204.7 471.7M178.1 508.5L204.7 508.5" stroke="#A9A9A9" stroke-width="2.7" fill="none"/>
<circle cx="191.4" cy="490.1" r="13.2" fill="#A9A9A9" stroke="#000" stroke-width="3.1"/>
<text x="215.3" y="503.4" font-size="37.5" text-anchor="start" font-weight="normal" fill="#000">REANN</text>
<path d="M191.4 513.4L191.4 550.2M178.1 513.4L204.7 513.4M178.1 550.2L204.7 550.2" stroke="#4682B4" stroke-width="2.7" fill="none"/>
<rect x="178.2" y="518.6" width="26.4" height="26.4" fill="#4682B4" stroke="#000" stroke-width="3.1"/>
<text x="215.3" y="545.1" font-size="37.5" text-anchor="start" font-weight="normal" fill="#000">PaiNN</text>
<rect x="1183.9" y="282" width="226.1" height="263.9" rx="10" ry="10" fill="#fff" stroke="#000" stroke-width="4.8"/>
<polygon points="1230.1,306.6 1223.55,317.94 1210.45,317.94 1203.9,306.6 1210.45,295.26 1223.55,295.26" fill="none" stroke="#ff0000" stroke-width="3.1" stroke-linejoin="miter"/>
<text x="1241.3" y="319.9" font-size="37.5" text-anchor="start" font-weight="normal" fill="#000">CRP</text>
<path d="M1217 329.7L1217 366.5M1203.7 329.7L1230.3 329.7M1203.7 366.5L1230.3 366.5" stroke="#ff0000" stroke-width="2.7" fill="none"/>
<path d="M1217 348.1L1229.7 348.1M1217 348.1L1210.65 337.94M1217 348.1L1210.65 358.26" stroke="#ff0000" stroke-width="3.2" fill="none"/>
<text x="1241.3" y="361.4" font-size="37.5" text-anchor="start" font-weight="normal" fill="#000">S SchNet</text>
<path d="M1217 371.2L1217 408M1203.7 371.2L1230.3 371.2M1203.7 408L1230.3 408" stroke="#DAA520" stroke-width="2.7" fill="none"/>
<polygon points="1217,376.4 1219.96,385.52 1229.55,385.52 1221.8,391.16 1224.76,400.28 1217,394.64 1209.24,400.28 1212.2,391.16 1204.45,385.52 1214.04,385.52" fill="#DAA520" stroke="#000" stroke-width="3.1" stroke-linejoin="bevel"/>
<text x="1241.3" y="402.9" font-size="37.5" text-anchor="start" font-weight="normal" fill="#000">ACE</text>
<path d="M1217 412.7L1217 449.5M1203.7 412.7L1230.3 412.7M1203.7 449.5L1230.3 449.5" stroke="#8FBC8F" stroke-width="2.7" fill="none"/>
<polygon points="1203.8,417.9 1230.2,431.1 1203.8,444.3" fill="#8FBC8F" stroke="#000" stroke-width="3.1" stroke-linejoin="miter"/>
<text x="1241.3" y="444.4" font-size="37.5" text-anchor="start" font-weight="normal" fill="#000">MACE</text>
<path d="M1217 454.2L1217 491M1203.7 454.2L1230.3 454.2M1203.7 491L1230.3 491" stroke="#A9A9A9" stroke-width="2.7" fill="none"/>
<circle cx="1217" cy="472.6" r="13.2" fill="#A9A9A9" stroke="#000" stroke-width="3.1"/>
<text x="1241.3" y="485.9" font-size="37.5" text-anchor="start" font-weight="normal" fill="#000">REANN</text>
<path d="M1217 495.7L1217 532.5M1203.7 495.7L1230.3 495.7M1203.7 532.5L1230.3 532.5" stroke="#4682B4" stroke-width="2.7" fill="none"/>
<rect x="1203.8" y="500.9" width="26.4" height="26.4" fill="#4682B4" stroke="#000" stroke-width="3.1"/>
<text x="1241.3" y="527.4" font-size="37.5" text-anchor="start" font-weight="normal" fill="#000">PaiNN</text>
</svg></body></html>
